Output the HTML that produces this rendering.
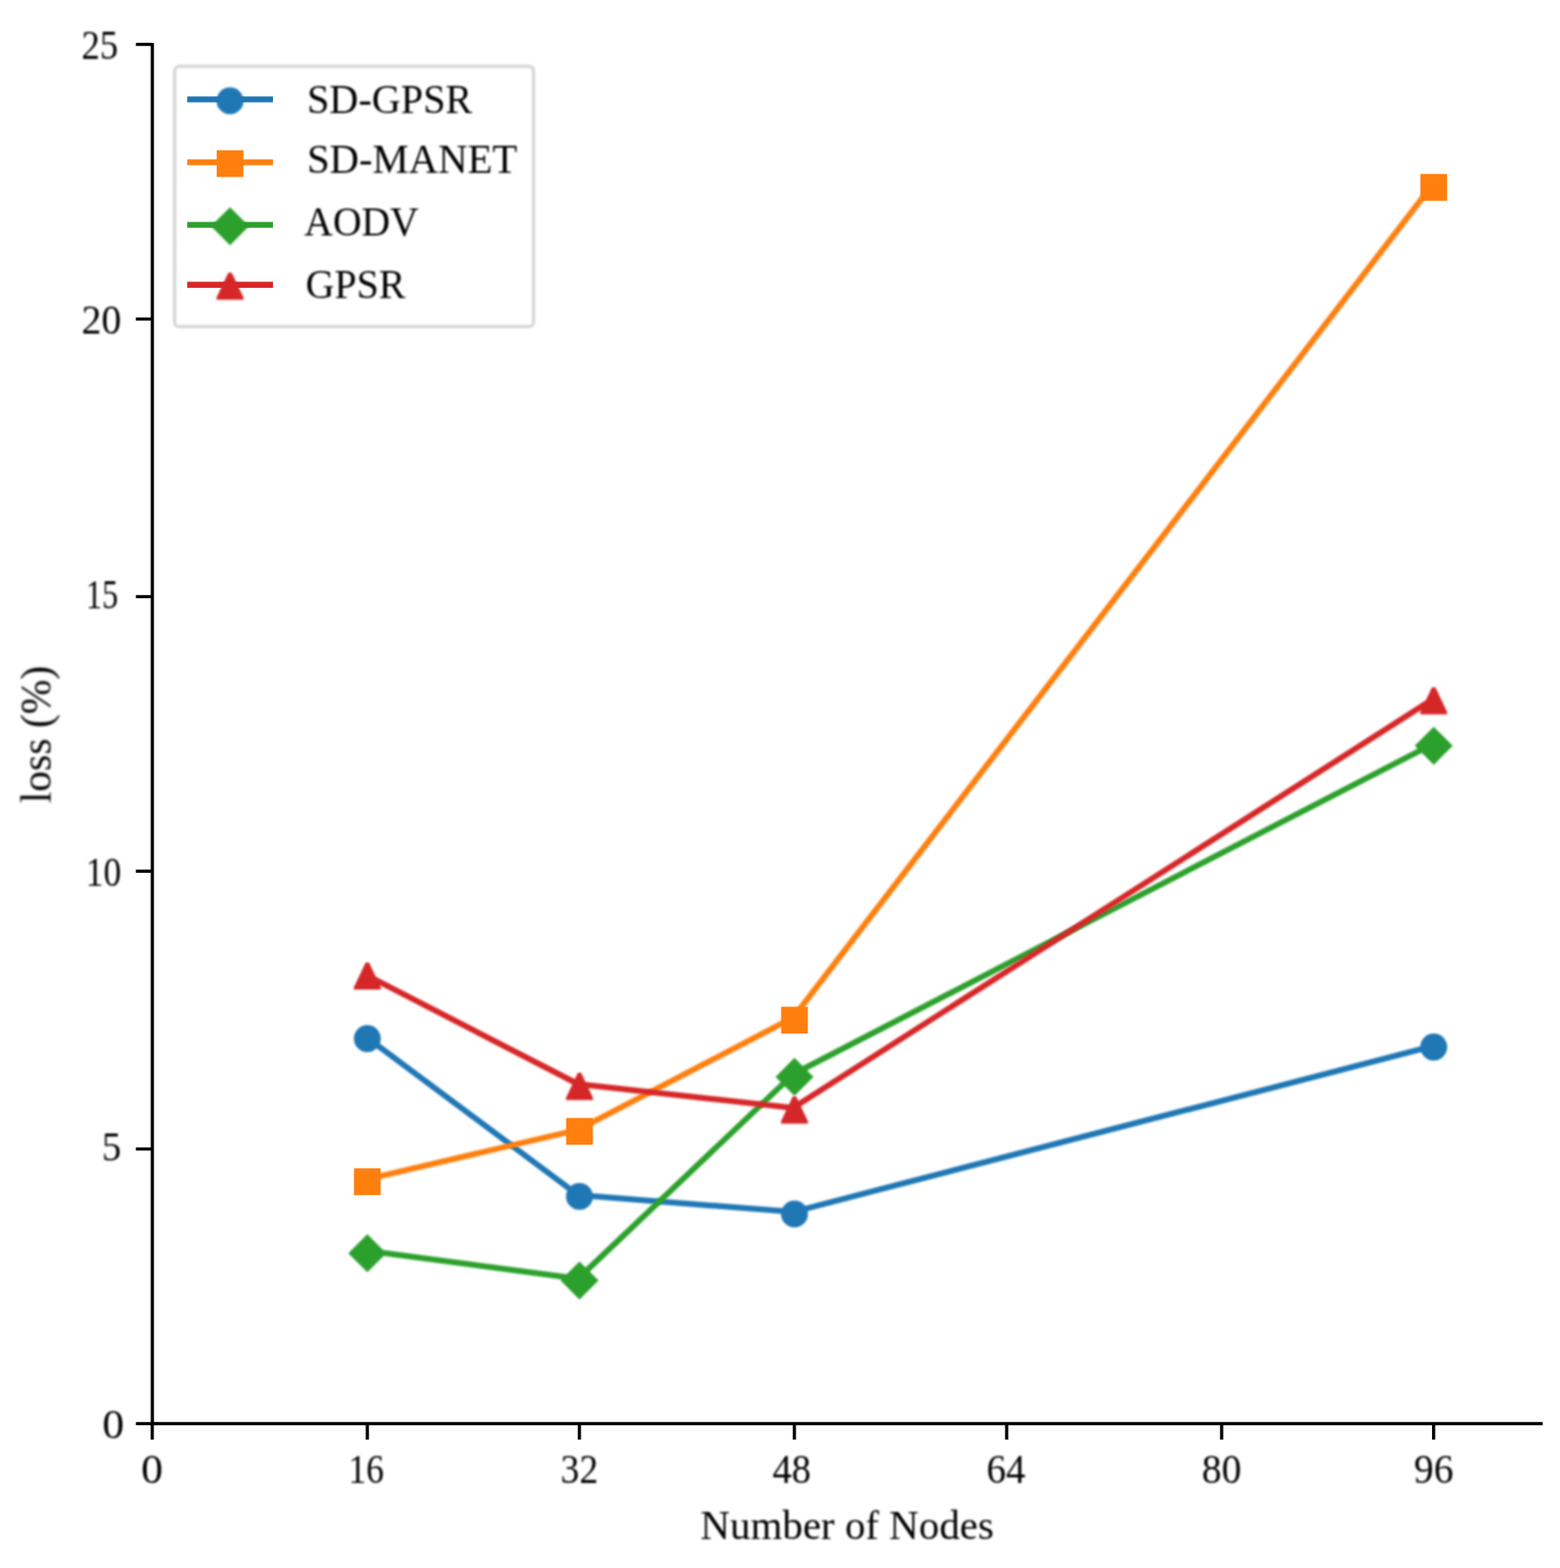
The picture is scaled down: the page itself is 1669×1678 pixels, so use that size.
<!DOCTYPE html>
<html lang="en"><head><meta charset="utf-8"><title>loss (%) vs Number of Nodes</title>
<style>html,body{margin:0;padding:0;background:#fff}body{width:1669px;height:1678px;overflow:hidden}svg{display:block}text{font-family:"Liberation Serif","DejaVu Serif",serif;font-size:43.4px;fill:#000}</style></head><body>
<svg width="1669" height="1678" viewBox="0 0 1669 1678">
<defs><filter id="soft" x="0" y="0" width="1669" height="1678" filterUnits="userSpaceOnUse" color-interpolation-filters="sRGB"><feGaussianBlur stdDeviation="1.0"/></filter><filter id="softt" x="0" y="0" width="1669" height="1678" filterUnits="userSpaceOnUse" color-interpolation-filters="sRGB"><feGaussianBlur stdDeviation="1.0"/></filter></defs>
<rect width="1669" height="1678" fill="#fff"/>
<g id="chart">
<g id="series">
<g filter="url(#soft)">
<polyline points="391.50,1109.45 618.50,1278.93 848.50,1296.90 1532.40,1119.63" fill="none" stroke="#1f77b4" stroke-width="6.25" stroke-linejoin="round" stroke-linecap="butt"/>
<circle cx="393.00" cy="1111.50" r="12.30" fill="#1f77b4" stroke="#1f77b4" stroke-width="4.17" stroke-linejoin="miter"/>
<circle cx="620.00" cy="1280.40" r="12.30" fill="#1f77b4" stroke="#1f77b4" stroke-width="4.17" stroke-linejoin="miter"/>
<circle cx="850.00" cy="1299.20" r="12.30" fill="#1f77b4" stroke="#1f77b4" stroke-width="4.17" stroke-linejoin="miter"/>
<circle cx="1533.90" cy="1120.50" r="12.30" fill="#1f77b4" stroke="#1f77b4" stroke-width="4.17" stroke-linejoin="miter"/>
</g>
<g filter="url(#soft)">
<polyline points="391.50,1262.25 618.50,1208.97 848.50,1089.08 1532.40,197.97" fill="none" stroke="#ff7f0e" stroke-width="6.25" stroke-linejoin="round" stroke-linecap="butt"/>
</g>
<rect x="378.70" y="1250.30" width="28.60" height="28.60" fill="#ff7f0e"/>
<rect x="605.70" y="1196.40" width="28.60" height="28.60" fill="#ff7f0e"/>
<rect x="835.70" y="1077.40" width="28.60" height="28.60" fill="#ff7f0e"/>
<rect x="1519.60" y="186.20" width="28.60" height="28.60" fill="#ff7f0e"/>
<g filter="url(#soft)">
<polyline points="391.50,1338.32 618.50,1368.38 848.50,1149.64 1532.40,796.60" fill="none" stroke="#2ca02c" stroke-width="6.25" stroke-linejoin="round" stroke-linecap="butt"/>
<polygon points="393.00,1323.81 410.39,1341.20 393.00,1358.59 375.61,1341.20" fill="#2ca02c" stroke="#2ca02c" stroke-width="4.17" stroke-linejoin="miter"/>
<polygon points="620.00,1352.91 637.39,1370.30 620.00,1387.69 602.61,1370.30" fill="#2ca02c" stroke="#2ca02c" stroke-width="4.17" stroke-linejoin="miter"/>
<polygon points="850.00,1135.01 867.39,1152.40 850.00,1169.79 832.61,1152.40" fill="#2ca02c" stroke="#2ca02c" stroke-width="4.17" stroke-linejoin="miter"/>
<polygon points="1533.90,780.71 1551.29,798.10 1533.90,815.49 1516.51,798.10" fill="#2ca02c" stroke="#2ca02c" stroke-width="4.17" stroke-linejoin="miter"/>
</g>
<g filter="url(#soft)">
<polyline points="391.50,1043.32 618.50,1160.12 848.50,1185.63 1532.40,748.60" fill="none" stroke="#d62728" stroke-width="6.25" stroke-linejoin="round" stroke-linecap="butt"/>
<polygon points="391.20,1029.90 394.80,1029.90 407.40,1056.50 407.40,1059.00 378.60,1059.00 378.60,1056.50" fill="#d62728"/>
<polygon points="618.20,1148.10 621.80,1148.10 634.40,1174.70 634.40,1177.20 605.60,1177.20 605.60,1174.70" fill="#d62728"/>
<polygon points="848.20,1173.30 851.80,1173.30 864.40,1199.90 864.40,1202.40 835.60,1202.40 835.60,1199.90" fill="#d62728"/>
<polygon points="1532.10,735.40 1535.70,735.40 1548.30,762.00 1548.30,764.50 1519.50,764.50 1519.50,762.00" fill="#d62728"/>
</g>
</g>
<g id="axes" stroke="#000" stroke-width="3.4" fill="none">
<line x1="163.0" y1="45.9" x2="163.0" y2="1525.2"/>
<line x1="161.3" y1="1523.5" x2="1650.5" y2="1523.5"/>
<line x1="162.90" y1="1523.5" x2="162.90" y2="1540.6"/>
<line x1="393.00" y1="1523.5" x2="393.00" y2="1540.6"/>
<line x1="619.90" y1="1523.5" x2="619.90" y2="1540.6"/>
<line x1="849.90" y1="1523.5" x2="849.90" y2="1540.6"/>
<line x1="1077.00" y1="1523.5" x2="1077.00" y2="1540.6"/>
<line x1="1307.00" y1="1523.5" x2="1307.00" y2="1540.6"/>
<line x1="1533.80" y1="1523.5" x2="1533.80" y2="1540.6"/>
<line x1="163.0" y1="1523.50" x2="145.4" y2="1523.50"/>
<line x1="163.0" y1="1229.60" x2="145.4" y2="1229.60"/>
<line x1="163.0" y1="932.30" x2="145.4" y2="932.30"/>
<line x1="163.0" y1="638.50" x2="145.4" y2="638.50"/>
<line x1="163.0" y1="341.40" x2="145.4" y2="341.40"/>
<line x1="163.0" y1="47.50" x2="145.4" y2="47.50"/>
</g>
<g id="labels" filter="url(#softt)">
<g id="xticks">
<text transform="translate(151.12,1587.29) scale(1.0740,1.0120)">0</text>
<text transform="translate(372.82,1587.29) scale(0.8758,1.0120)">16</text>
<text transform="translate(599.85,1587.29) scale(0.9256,1.0120)">32</text>
<text transform="translate(826.49,1587.29) scale(0.9488,1.0120)">48</text>
<text transform="translate(1055.52,1587.29) scale(0.9585,1.0120)">64</text>
<text transform="translate(1285.79,1587.29) scale(0.9750,1.0120)">80</text>
<text transform="translate(1512.84,1587.29) scale(0.9704,1.0120)">96</text>
</g>
<g id="yticks">
<text transform="translate(87.19,63.00) scale(0.9057,1.0017)">25</text>
<text transform="translate(87.24,357.29) scale(0.9811,1.0120)">20</text>
<text transform="translate(92.04,651.19) scale(0.7895,1.0207)">15</text>
<text transform="translate(91.72,948.39) scale(0.8737,1.0120)">10</text>
<text transform="translate(109.11,1242.29) scale(0.9543,1.0207)">5</text>
<text transform="translate(109.42,1539.20) scale(1.0740,1.0017)">0</text>
</g>
<text transform="translate(749.34,1647.48) scale(1.0101,1.0355)">Number of Nodes</text>
<text transform="translate(54.25,859.57) rotate(-90) scale(1.0259,1.0752)">loss (%)</text>
</g>
<g id="legend">
<g filter="url(#softt)"><rect x="186.9" y="71.1" width="383.9" height="278.4" rx="4.5" ry="4.5" fill="#fff" fill-opacity="0.8" stroke="#ccc" stroke-opacity="0.8" stroke-width="3.5"/></g>
<line x1="200.3" y1="106.4" x2="292.0" y2="106.4" stroke="#1f77b4" stroke-width="6.4"/>
<g filter="url(#soft)"><circle cx="246.10" cy="107.90" r="12.30" fill="#1f77b4" stroke="#1f77b4" stroke-width="4.17" stroke-linejoin="miter"/></g>
<g filter="url(#softt)"><text transform="translate(328.43,120.79) scale(0.9909,1.0222)">SD-GPSR</text></g>
<line x1="200.3" y1="173.6" x2="292.0" y2="173.6" stroke="#ff7f0e" stroke-width="6.4"/>
<rect x="231.80" y="160.80" width="28.60" height="28.60" fill="#ff7f0e"/>
<g filter="url(#softt)"><text transform="translate(328.39,184.70) scale(1.0041,0.9983)">SD-MANET</text></g>
<line x1="200.3" y1="240.6" x2="292.0" y2="240.6" stroke="#2ca02c" stroke-width="6.4"/>
<g filter="url(#soft)"><polygon points="246.10,224.71 263.49,242.10 246.10,259.49 228.71,242.10" fill="#2ca02c" stroke="#2ca02c" stroke-width="4.17" stroke-linejoin="miter"/></g>
<g filter="url(#softt)"><text transform="translate(325.61,251.74) scale(0.9755,1.0136)">AODV</text></g>
<line x1="200.3" y1="304.7" x2="292.0" y2="304.7" stroke="#d62728" stroke-width="6.4"/>
<g filter="url(#soft)"><polygon points="244.30,291.70 247.90,291.70 260.50,318.30 260.50,320.80 231.70,320.80 231.70,318.30" fill="#d62728"/></g>
<g filter="url(#softt)"><text transform="translate(326.98,319.09) scale(0.9845,1.0222)">GPSR</text></g>
</g>
</g></svg></body></html>
